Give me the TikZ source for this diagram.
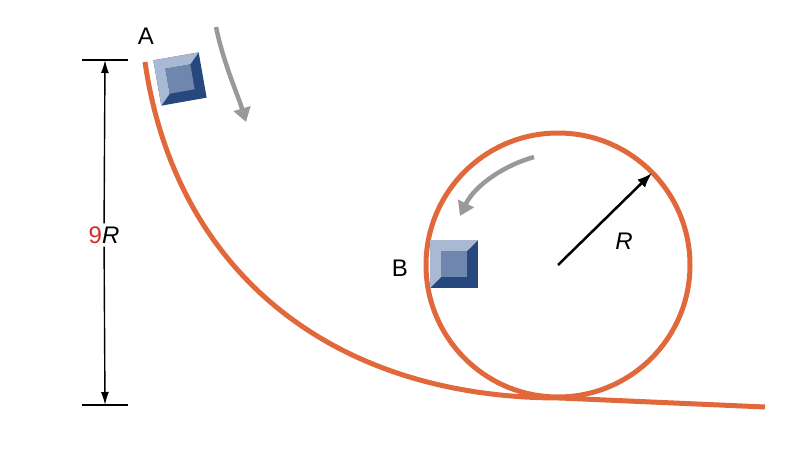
\documentclass[tikz,border=0pt]{standalone}
\usepackage{fontspec}
\setmainfont{Liberation Sans}
\usetikzlibrary{arrows.meta}
\definecolor{trk}{HTML}{E0683A}
\definecolor{bl}{HTML}{A9B9D3}
\definecolor{bd}{HTML}{27487F}
\definecolor{bm}{HTML}{6F87AF}
\definecolor{rd}{HTML}{D42A2A}
\tikzset{track/.style={trk,line width=5pt},
 garrow/.style={gray!80,line width=4.5pt,-{Triangle[length=14pt,width=17pt]}},
 dim/.style={black,line width=1.4pt},
 lbl/.style={font=\fontsize{24}{24}\selectfont}}
\newcommand{\myblock}[3]{%
 \begin{scope}[shift={(#1)},rotate=#2]
 \fill[bd] (-#3,-#3) rectangle (#3,#3);
 \fill[bl] (-#3,#3) -- (-#3,-#3) -- (#3,-#3) -- (0.55*#3,-0.55*#3) -- (-0.55*#3,-0.55*#3) -- (-0.55*#3,0.55*#3) -- cycle;
 \fill[bm] (-0.55*#3,-0.55*#3) rectangle (0.55*#3,0.55*#3);
 \end{scope}}
\begin{document}
\begin{tikzpicture}[x=1pt,y=-1pt]
\useasboundingbox (0,0) rectangle (812,450);
\coordinate (A0) at (145,62);
\coordinate (L) at (560,398);
\coordinate (E) at (765,407);
\coordinate (C) at (558,265);
\draw[track] (A0) .. controls (175,270) and (330,398) .. (L) -- (E);
\draw[track] (C) circle[radius=132];
\myblock{180,79}{10}{23}
\myblock{454,264}{0}{24}
\node[lbl] (lA) at (146,36) {A};
\node[lbl] (lB) at (400,268) {B};
% dimension
\coordinate (t1) at (82,60); \coordinate (t2) at (128,60);
\coordinate (b1) at (82,405); \coordinate (b2) at (128,405);
\coordinate (dt) at (105,60); \coordinate (db) at (105,405);
\draw[dim] (t1) -- (t2); \draw[dim] (b1) -- (b2);
\node[lbl,fill=white,inner sep=3pt] (nine) at (104,235) {\textcolor{rd}{9}\textit{R}};
\draw[dim,-{Latex[length=13pt,width=8pt]}] (nine) -- (dt);
\draw[dim,-{Latex[length=13pt,width=8pt]}] (nine) -- (db);
% radius
\coordinate (P) at (652,173);
\draw[line width=2.5pt,-{Latex[length=15pt,width=11pt]}] (C) -- (P);
\node[lbl] (lR) at (624,241) {\textit{R}};
% motion arrows
\coordinate (g1) at (216,27); \coordinate (g2) at (246,122);
\draw[garrow] (g1) .. controls (224,65) and (238,95) .. (g2);
\coordinate (g3) at (534,157); \coordinate (g4) at (460,216);
\draw[garrow] (g3) .. controls (505,165) and (475,185) .. (g4);
\end{tikzpicture}
\end{document}
